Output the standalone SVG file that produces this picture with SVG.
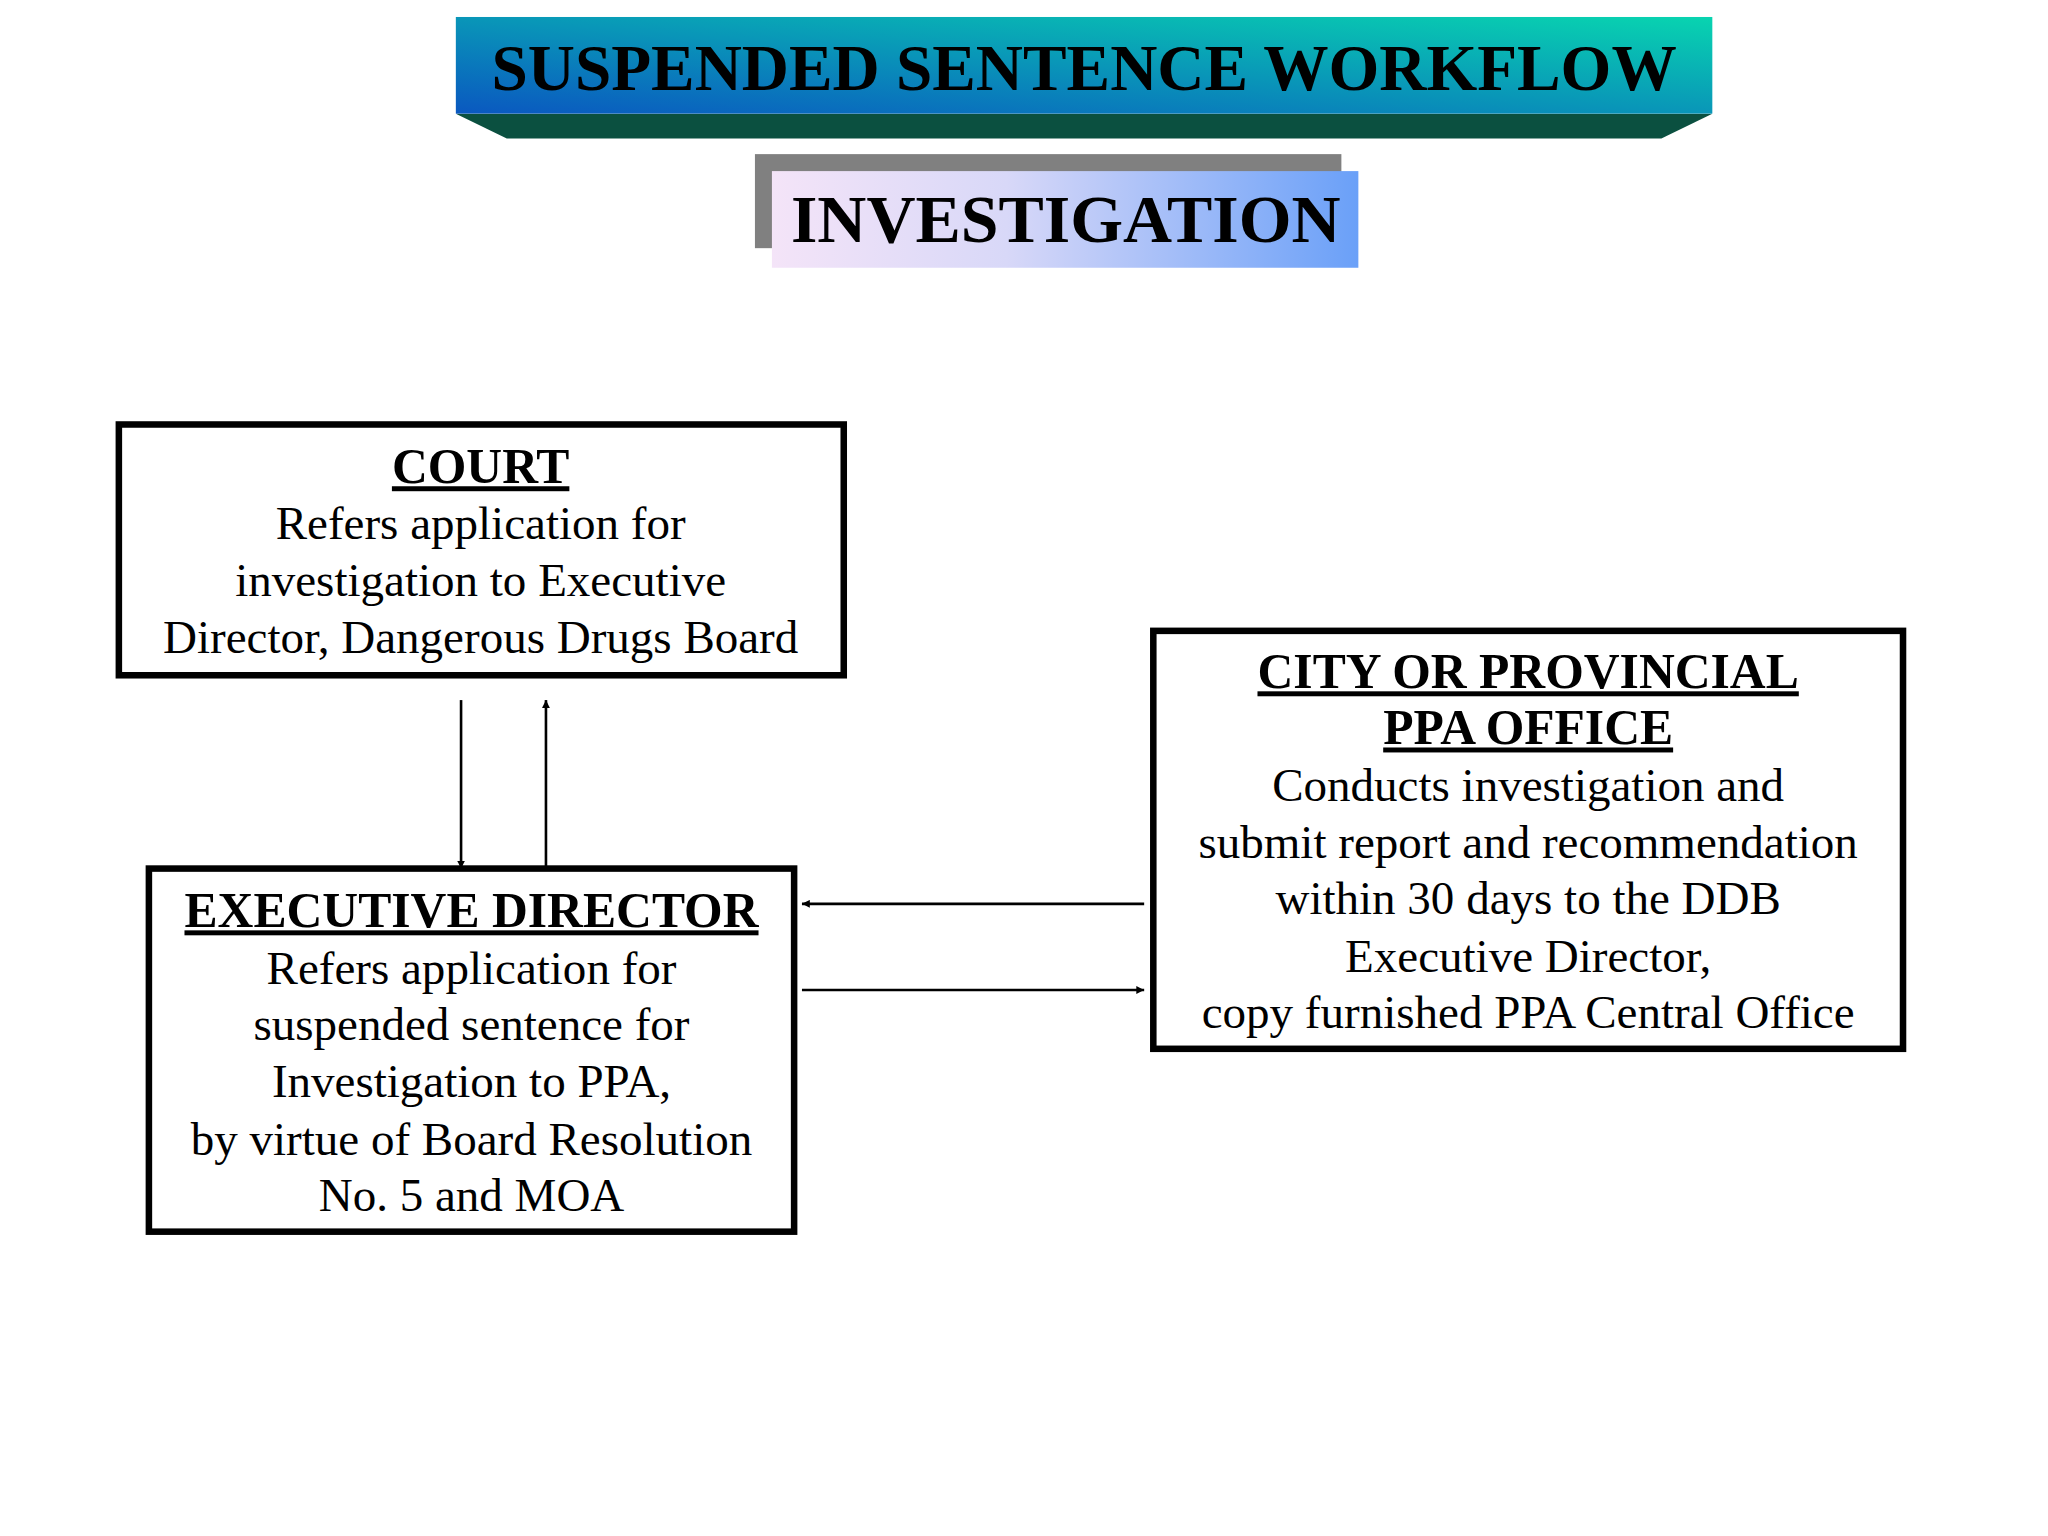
<svg xmlns="http://www.w3.org/2000/svg" width="2048" height="1536" viewBox="0 0 2048 1536">
<style>
.t{font-family:"Liberation Serif","Times New Roman",serif;fill:#000;text-anchor:middle}
.h{font-weight:bold;font-size:38px;text-decoration:underline}
.b{font-size:36px}
.box{fill:#fff;stroke:#000;stroke-width:5}
.c{stroke:#000;stroke-width:2;fill:none;marker-end:url(#a)}
</style>
<defs>
<linearGradient id="g1" x1="0" y1="1" x2="1" y2="0"><stop offset="0" stop-color="#0a58c0"/><stop offset="1" stop-color="#08d4b0"/></linearGradient>
<linearGradient id="g2" x1="0" y1="0.5" x2="1" y2="0.5"><stop offset="0" stop-color="#f4e4f8"/><stop offset="0.4" stop-color="#d8d8f8"/><stop offset="1" stop-color="#6aa0f8"/></linearGradient>
<marker id="a" viewBox="0 0 10 10" refX="10" refY="5" markerWidth="6" markerHeight="6" orient="auto" markerUnits="userSpaceOnUse"><path d="M0,0L10,5L0,10z" fill="#000"/></marker>
</defs>
<rect width="2048" height="1536" fill="#fff"/>
<g transform="scale(1.30612)">
<g id="title">
<polygon points="349,87 1311,87 1272,106 388,106" fill="#0b5040"/>
<rect x="349" y="13" width="962" height="74" fill="url(#g1)"/>
<text class="t" x="830" y="69" font-size="50" font-weight="bold">SUSPENDED SENTENCE WORKFLOW</text>
</g>
<g id="subtitle">
<rect x="578" y="118" width="449" height="72" fill="#808080"/>
<rect x="591" y="131" width="449" height="74" fill="url(#g2)"/>
<text class="t" x="816" y="185" font-size="52" font-weight="bold">INVESTIGATION</text>
</g>
<g id="court">
<rect class="box" x="91" y="325" width="555" height="192"/>
<text class="t h" x="368" y="370">COURT</text>
<text class="t b" x="368" y="413">Refers application for</text>
<text class="t b" x="368" y="456">investigation to Executive</text>
<text class="t b" x="368" y="500">Director, Dangerous Drugs Board</text>
</g>
<g id="exec">
<rect class="box" x="114" y="665" width="494" height="278"/>
<text class="t h" x="361" y="710">EXECUTIVE DIRECTOR</text>
<text class="t b" x="361" y="753">Refers application for</text>
<text class="t b" x="361" y="796">suspended sentence for</text>
<text class="t b" x="361" y="840">Investigation to PPA,</text>
<text class="t b" x="361" y="884">by virtue of Board Resolution</text>
<text class="t b" x="361" y="927">No. 5 and MOA</text>
</g>
<g id="city">
<rect class="box" x="883" y="483" width="574" height="320"/>
<text class="t h" x="1170" y="527">CITY OR PROVINCIAL</text>
<text class="t h" x="1170" y="570">PPA OFFICE</text>
<text class="t b" x="1170" y="613">Conducts investigation and</text>
<text class="t b" x="1170" y="657">submit report and recommendation</text>
<text class="t b" x="1170" y="700">within 30 days to the DDB</text>
<text class="t b" x="1170" y="744">Executive Director,</text>
<text class="t b" x="1170" y="787">copy furnished PPA Central Office</text>
</g>
<g id="connectors">
<line class="c" x1="353" y1="536" x2="353" y2="665"/>
<line class="c" x1="418" y1="664" x2="418" y2="536"/>
<line class="c" x1="876" y1="692" x2="614" y2="692"/>
<line class="c" x1="614" y1="758" x2="876" y2="758"/>
</g>
</g>
</svg>
